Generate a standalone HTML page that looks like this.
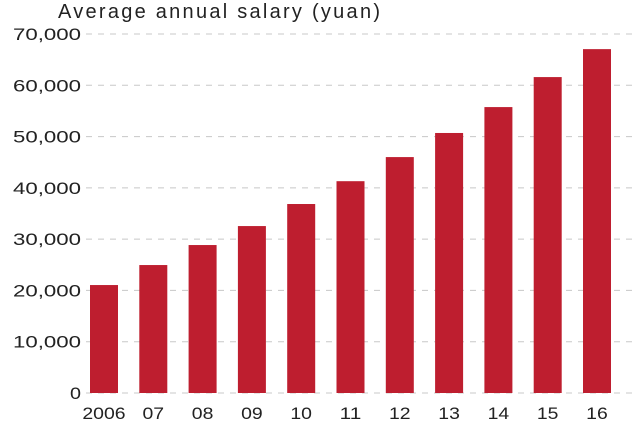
<!DOCTYPE html>
<html><head><meta charset="utf-8"><style>
html,body{margin:0;padding:0;background:#fff;}
svg{display:block;font-family:"Liberation Sans",sans-serif;}
</style></head><body>
<svg id="c" width="634" height="423">
<text x="58" y="18" font-size="20" fill="#222" textLength="322" lengthAdjust="spacing">Average annual salary (yuan)</text>
<g id="grid"></g><g id="bars"></g><g id="labels"></g>
</svg>
<script>
const categories=["2006","07","08","09","10","11","12","13","14","15","16"];
const salaries=[21050,24950,28850,32550,36850,41300,46000,50700,55750,61600,67050];
const yTicks=[0,10000,20000,30000,40000,50000,60000,70000];
const yTickLabels=["0","10,000","20,000","30,000","40,000","50,000","60,000","70,000"];
const NS="http://www.w3.org/2000/svg";
const y0=393,y1=34,vmax=70000;
function yScale(v){return y0-(v/vmax)*(y0-y1);}
function xScale(i){return 90+i*49.3;}
const bw=28;
const grid=document.getElementById('grid'),bars=document.getElementById('bars'),labels=document.getElementById('labels');
yTicks.forEach((t,i)=>{
 const l=document.createElementNS(NS,'line');
 l.setAttribute('x1',86);l.setAttribute('x2',632);
 l.setAttribute('y1',yScale(t));l.setAttribute('y2',yScale(t));
 l.setAttribute('stroke','#c8c8c8');l.setAttribute('stroke-width','1');l.setAttribute('stroke-dasharray','6,6');
 
 
 grid.appendChild(l);
 const tx=document.createElementNS(NS,'text');
 tx.setAttribute('x',81);tx.setAttribute('y',yScale(t)+6);tx.setAttribute('text-anchor','end');
 tx.setAttribute('font-size','16.5');tx.setAttribute('fill','#222');
 const w=yTickLabels[i].length===1?11:68;
 tx.setAttribute('textLength',w);tx.setAttribute('lengthAdjust','spacingAndGlyphs');
 tx.textContent=yTickLabels[i];
 
 
 labels.appendChild(tx);
});
categories.forEach((c,i)=>{
 const r=document.createElementNS(NS,'rect');
 const x=xScale(i),yt=yScale(salaries[i]);
 r.setAttribute('x',x);r.setAttribute('y',yt);r.setAttribute('width',bw);r.setAttribute('height',y0-yt);
 r.setAttribute('fill','#be1e2f');
 
 
 bars.appendChild(r);
 const tx=document.createElementNS(NS,'text');
 tx.setAttribute('x',x+bw/2);tx.setAttribute('y',419);tx.setAttribute('text-anchor','middle');
 tx.setAttribute('font-size','17');tx.setAttribute('fill','#222');
 tx.setAttribute('textLength',c.length*10.8);tx.setAttribute('lengthAdjust','spacingAndGlyphs');
 tx.textContent=c;
 
 
 labels.appendChild(tx);
});
</script>
</body></html>
